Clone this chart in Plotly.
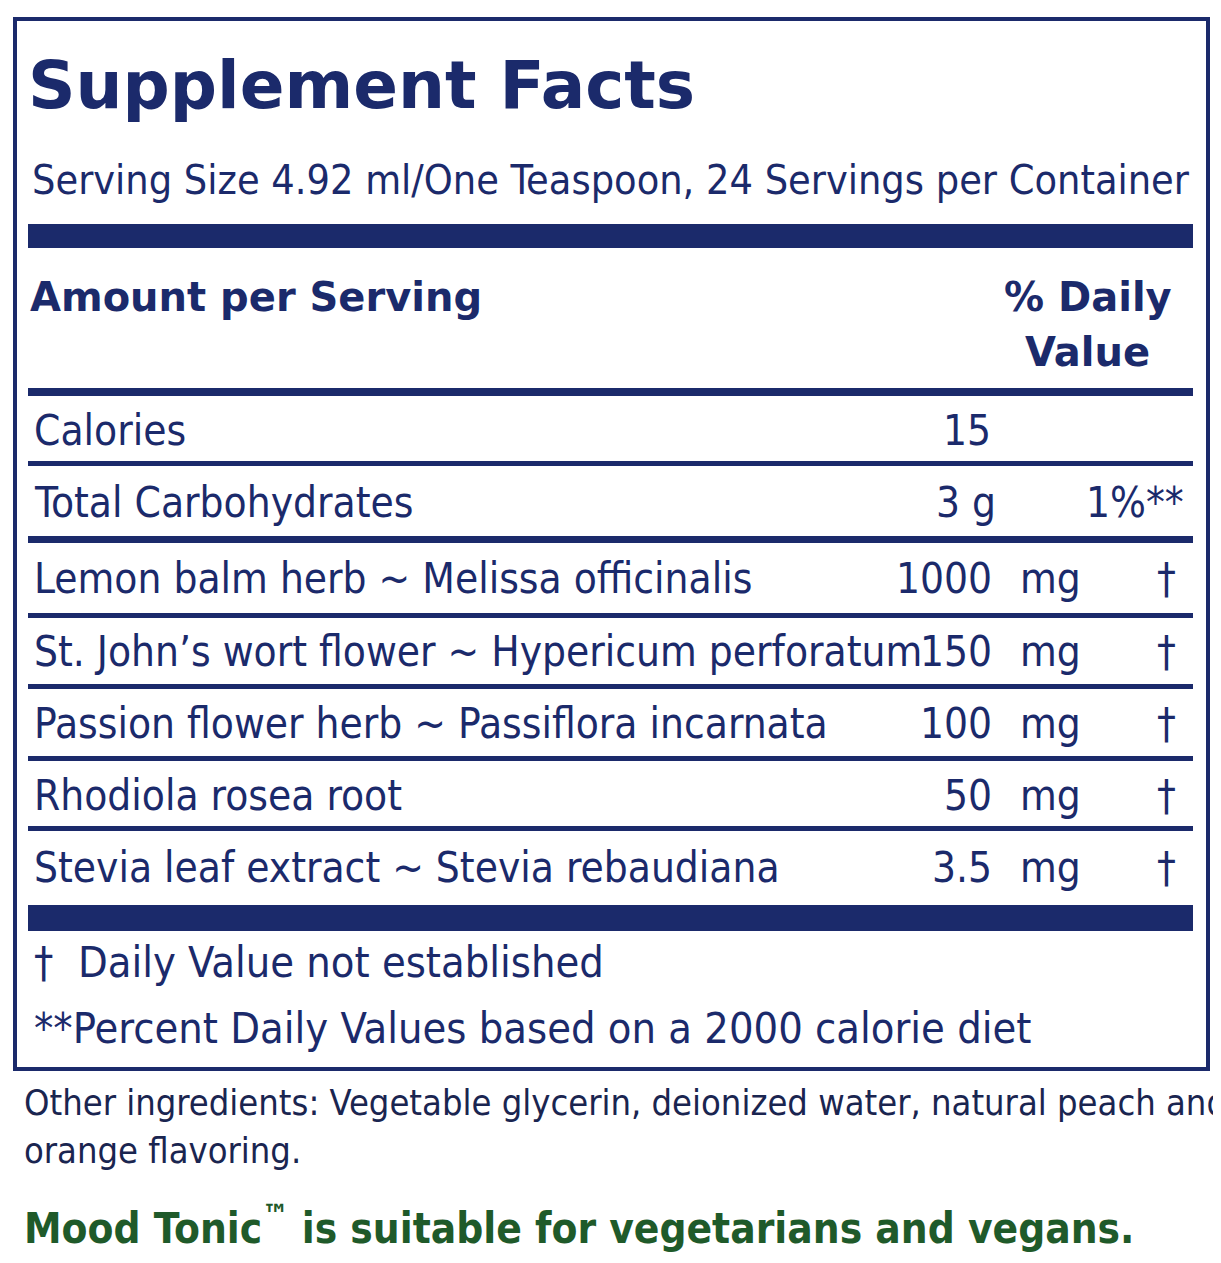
import plotly.graph_objects as go

NAVY = "#1b2a6b"
GREEN = "#1f5a2a"
title = "Supplement Facts"
serving = "Serving Size 4.92 ml/One Teaspoon, 24 Servings per Container"
names = ["Calories", "Total Carbohydrates", "Lemon balm herb ~ Melissa officinalis",
         "St. John’s wort flower ~ Hypericum perforatum", "Passion flower herb ~ Passiflora incarnata",
         "Rhodiola rosea root", "Stevia leaf extract ~ Stevia rebaudiana"]
amounts = ["15", "3", "1000", "150", "100", "50", "3.5"]
units = ["", "g", "mg", "mg", "mg", "mg", "mg"]
dvs = ["", "1%**", "†", "†", "†", "†", "†"]
notes = ["†  Daily Value not established", "**Percent Daily Values based on a 2000 calorie diet"]
other = ["Other ingredients: Vegetable glycerin, deionized water, natural peach and", "orange flavoring."]

NARROW = "DejaVu Sans Condensed, sans-serif"
BOLD = "DejaVu Sans, sans-serif"

fig = go.Figure()
fig.add_trace(go.Scatter(x=[8, 1229], y=[8, 1271], mode="markers", marker=dict(opacity=0), hoverinfo="skip"))
shapes = []
anns = []
def rect(x0, y0, x1, y1, fill=NAVY, line=None):
    shapes.append(dict(type="rect", xref="x", yref="y", x0=x0, y0=y0, x1=x1, y1=y1,
                       fillcolor=fill if line is None else "rgba(0,0,0,0)",
                       line=dict(width=0 if line is None else line, color=NAVY)))
def txt(x, y, s, size, font=NARROW, color=NAVY, anchor="left", bold=False):
    if bold: s = "<b>" + s + "</b>"
    anns.append(dict(x=x, y=y, xref="x", yref="y", text=s, showarrow=False, xanchor=anchor,
                     yanchor="middle", font=dict(size=size, family=font, color=color)))

rect(15, 19, 1208, 1069, line=4)
txt(26, 85, title, 66, font=BOLD, bold=True)
txt(30, 180, serving, 41)
rect(28, 224, 1193, 248)
txt(28, 297, "Amount per Serving", 40, font=BOLD, bold=True)
txt(1174, 297, "% Daily", 40, font=BOLD, bold=True, anchor="right")
txt(1152, 352, "Value", 40, font=BOLD, bold=True, anchor="right")
rect(28, 388, 1193, 396)
row_y = [430, 502, 578, 651, 723, 795, 867]
lines = [(461, 466), (536, 543), (613, 618), (684, 689), (756, 761), (826, 831)]
for (a, b) in lines:
    rect(28, a, 1193, b)
for i, y in enumerate(row_y):
    txt(32, y, names[i], 42)
    if units[i] == "":
        txt(993, y, amounts[i], 42, anchor="right")
    elif units[i] == "g":
        txt(998, y, amounts[i] + " " + units[i], 42, anchor="right")
    else:
        txt(994, y, amounts[i], 42, anchor="right")
        txt(1018, y, units[i], 42)
    if dvs[i] == "†":
        txt(1166, y, dvs[i], 42, anchor="center")
    elif dvs[i]:
        txt(1186, y, dvs[i], 42, anchor="right")
rect(28, 905, 1193, 931)
txt(32, 962, notes[0], 43)
txt(32, 1028, notes[1], 43)
txt(22, 1102, other[0], 36, color="#1a2550")
txt(22, 1150, other[1], 36, color="#1a2550")
txt(22, 1225, "Mood Tonic<sup>™</sup> is suitable for vegetarians and vegans.", 42, color=GREEN, bold=True)

fig.update_layout(width=1221, height=1263, margin=dict(l=0, r=0, t=0, b=0),
                  plot_bgcolor="white", paper_bgcolor="white", shapes=shapes, annotations=anns,
                  showlegend=False,
                  xaxis=dict(range=[8, 1229], visible=False, fixedrange=True),
                  yaxis=dict(range=[1271, 8], visible=False, fixedrange=True))
fig.write_html("out.html")
